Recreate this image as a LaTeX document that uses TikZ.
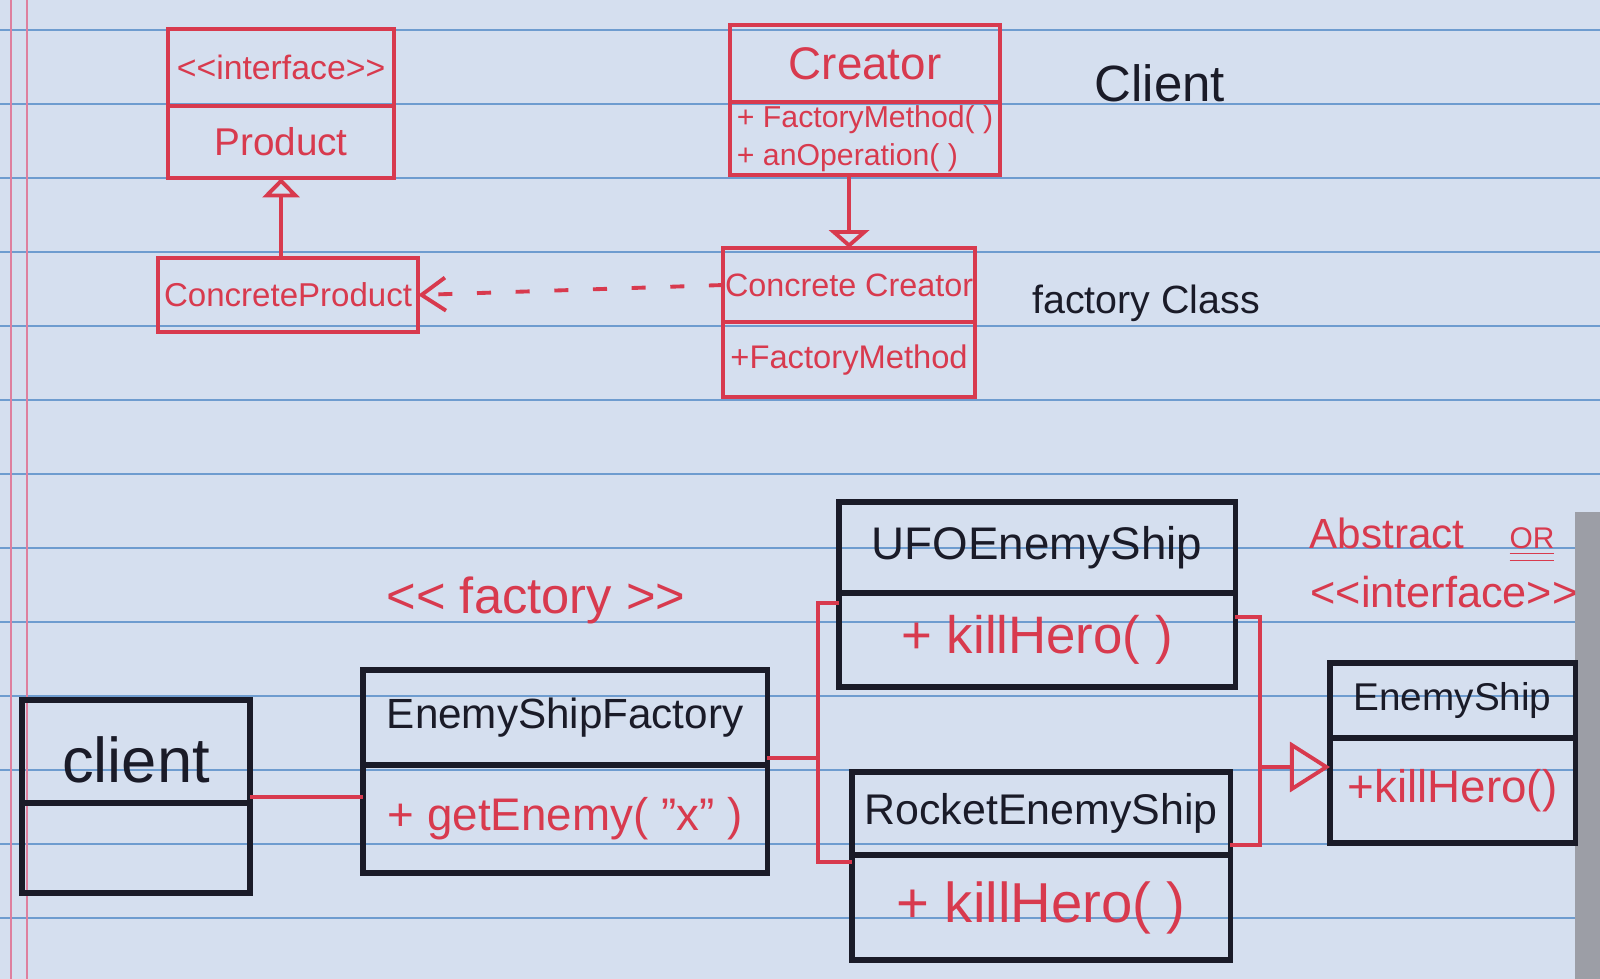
\documentclass[tikz,border=0pt]{standalone}
\usepackage{fontspec}
\setmainfont{Liberation Sans}
\usetikzlibrary{arrows.meta, calc}
\definecolor{cpaper}{HTML}{D5DFEF}
\definecolor{crule}{HTML}{6E9CCF}
\definecolor{cmargin}{HTML}{DE7F9E}
\definecolor{cred}{HTML}{D83A4E}
\definecolor{cink}{HTML}{1A1B28}
\definecolor{cshade}{HTML}{9C9EA6}
\newcommand\fsz[1]{\fontsize{#1}{#1}\selectfont}
\tikzset{
  every picture/.style={line width=1.1pt},
  cls/.style={anchor=north west, inner sep=0pt, outer sep=0pt, align=center},
  redcls/.style={cls, draw=cred, text=cred, line width=1.1pt},
  inkcls/.style={cls, draw=cink, text=cink, line width=1.5pt},
  inkbody/.style={cls, draw=cink, text=cred, line width=1.5pt},
  gen/.style={draw=cred, line width=1.1pt, -{Triangle[open, length=#1]}},
  gen/.default={5.5pt, width=10.5pt},
  dep/.style={draw=cred, line width=1.1pt, dash pattern=on 4pt off 7pt, -{Straight Barb[length=6.8pt, width=9.4pt]}},
  assoc/.style={draw=cred, line width=1.1pt},
  inklabel/.style={text=cink, inner sep=0pt},
  redlabel/.style={text=cred, inner sep=0pt},
}

\begin{document}
\begin{tikzpicture}[x=0.01cm, y=-0.01cm]
  \useasboundingbox (0,0) rectangle (1600,979);
  % ruled paper
  \fill[cpaper] (0,0) rectangle (1600,979);
  \foreach \y in {30,104,...,918} \draw[crule, line width=0.7pt] (0,\y) -- (1600,\y);
  \draw[cmargin, line width=0.8pt] (11,0) -- (11,979);
  \draw[cmargin, line width=0.8pt] (27,0) -- (27,979);
  \fill[cshade] (1575,512) rectangle (1600,979);

  % factory method pattern (top)
  \node[redcls, minimum width=2.26cm, minimum height=0.77cm, font=\fsz{9.6}] (prod) at (168,29) {<{}<interface>{}>};
  \node[redcls, minimum width=2.26cm, minimum height=0.72cm, font=\fsz{11}] (prod-b) at (prod.south west) {Product};
  \node[redcls, minimum width=2.6cm, minimum height=0.74cm, font=\fsz{9.4}] (cprod) at (158,258) {ConcreteProduct};
  \node[redcls, minimum width=2.7cm, minimum height=0.77cm, font=\fsz{13}] (cre) at (730,25) {Creator};
  \node[redcls, minimum width=2.7cm, minimum height=0.73cm, align=left, font=\fontsize{8.6}{10.6}\selectfont] (cre-b) at (cre.south west) {+ FactoryMethod( )\\+ anOperation( )};
  \node[redcls, minimum width=2.52cm, minimum height=0.74cm, font=\fsz{9.2}] (cc) at (723,248) {Concrete Creator};
  \node[redcls, minimum width=2.52cm, minimum height=0.75cm, font=\fsz{9.3}] (cc-b) at (cc.south west) {+FactoryMethod};
  \draw[gen] (cprod.north -| prod-b.south) -- (prod-b.south);
  \draw[gen={5.1pt, width=11.4pt}] (cre-b.south -| cc.north) -- (cc.north);
  \draw[dep] (cc.west) -- (cprod.east);
  \node[inklabel, font=\fsz{14.5}] (lclient) at (1160,83) {Client};
  \node[inklabel, font=\fsz{11.2}] (lfactory) at (1146,303) {factory Class};

  % enemy ship example (bottom)
  \node[redlabel, font=\fsz{14.4}] (lstereo) at (536,600) {<{}< factory >{}>};
  \node[inkcls, minimum width=2.28cm, minimum height=1.03cm, font=\fsz{18}] (cl) at (22,700) {\raisebox{-0.08cm}[\height][\depth]{client}};
  \node[inkbody, minimum width=2.28cm, minimum height=0.9cm] (cl-b) at (cl.south west) {};
  \node[inkcls, minimum width=4.04cm, minimum height=0.95cm, font=\fsz{12}] (fac) at (363,670) {EnemyShipFactory};
  \node[inkbody, minimum width=4.04cm, minimum height=1.08cm, font=\fsz{13}] (fac-b) at (fac.south west) {+ getEnemy( "x" )};
  \node[inkcls, minimum width=3.96cm, minimum height=0.91cm, font=\fsz{13}] (ufo) at (839,502) {UFOEnemyShip};
  \node[inkbody, minimum width=3.96cm, minimum height=0.94cm, font=\fsz{15}] (ufo-b) at (ufo.south west) {+ killHero( )};
  \node[inkcls, minimum width=3.78cm, minimum height=0.83cm, font=\fsz{12.2}] (rock) at (852,772) {RocketEnemyShip};
  \node[inkbody, minimum width=3.78cm, minimum height=1.05cm, font=\fsz{16}] (rock-b) at (rock.south west) {+ killHero( )};
  \node[inkcls, minimum width=2.45cm, minimum height=0.75cm, font=\fsz{11}] (es) at (1330,663) {EnemyShip};
  \node[inkbody, minimum width=2.45cm, minimum height=1.05cm, font=\fsz{13}] (es-b) at (es.south west) {+killHero()};
  \node[redlabel, font=\fsz{12}] (labs) at (1432,540) {Abstract\hspace{0.45cm}{\fsz{8.5}\underline{\underline{OR}}}};
  \node[redlabel, font=\fsz{12.3}] (lintf) at (1444,592) {<{}<interface>{}>};

  \coordinate (brl) at (818,758);
  \coordinate (brr) at (1260,767);
  \draw[assoc] ([yshift=1.7pt]cl.south east) -- ([yshift=1.7pt]cl.south east -| fac-b.west);
  \draw[assoc] (brl -| fac.east) -- (brl);
  \draw[assoc] ([yshift=-2.8pt]ufo-b.north west) -| (brl) |- ([yshift=-2pt]rock-b.north west);
  \draw[assoc] ([yshift=-6.8pt]ufo-b.north east) -| (brr) |- ([yshift=2.8pt]rock.south east);
  \draw[gen={11.4pt, width=14.2pt}] (brr) -- (brr -| es-b.west);
\end{tikzpicture}
\end{document}
